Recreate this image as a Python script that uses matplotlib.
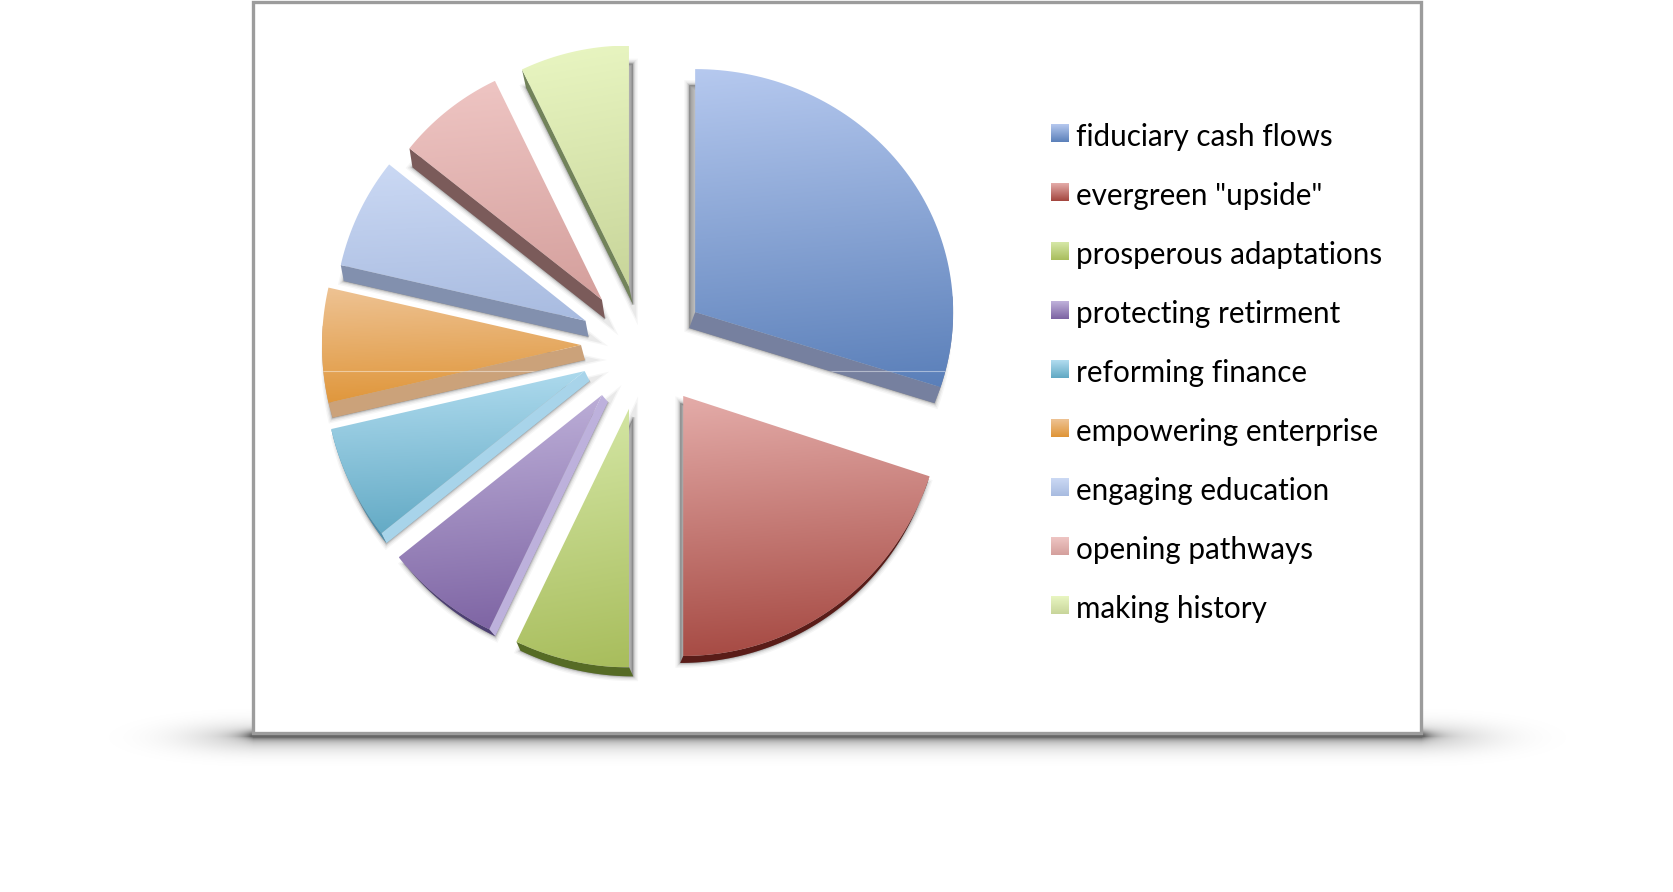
import numpy as np
import matplotlib
matplotlib.use("Agg")
import matplotlib.pyplot as plt
from matplotlib.colors import to_rgb
from matplotlib.patches import Polygon, Rectangle

# ---- data -------------------------------------------------------------
labels = ["fiduciary cash flows", 'evergreen "upside"', "prosperous adaptations",
          "protecting retirment", "reforming finance", "empowering enterprise",
          "engaging education", "opening pathways", "making history"]
values = [30, 20, 7.14, 7.14, 7.14, 7.14, 7.14, 7.14, 7.16]

# ---- styles -----------------------------------------------------------
top_colors = ["#B6C9EF", "#E4ACA9", "#D6E8A8", "#C0B3DB", "#B2DDF0", "#EEC394", "#CBD9F4", "#EFC6C4", "#E9F6C2"]
low_colors = ["#5A7FB9", "#A3453E", "#A8BD5C", "#7C62A2", "#60A8C3", "#DF9436", "#A8BBE0", "#D49F9C", "#C8D59A"]
band_colors = ["#76809F", "#5A1C18", "#566B25", "#BDB1DC", "#A8D4EA", "#CBA27A", "#8290AE", "#7B5B5A", "#72835A"]
rim_colors = ["#76809F", "#5A1C18", "#566B25", "#4D3F73", "#4E8FAD", "#CBA27A", "#8290AE", "#7B5B5A", "#72835A"]
explode_x = [62, 65, 71, 69, 67, 64, 66, 69, 72]
explode_y = [56, 63, 65, 64, 60, 58, 56, 58, 60]
radius_x = [258, 259, 260, 260, 260, 259, 251, 246, 246]
radius_y = [243, 260, 259, 260, 260, 259, 251, 243, 241]
depth_x = [-6, -3, 4, 6, 5, 4, 3, 3, 4]
depth_y = [16, 7, 9, 7, 10, 15, 16, 19, 18]
CX, CY = 645, 345

fig = plt.figure(figsize=(16.73, 8.92), dpi=100)
ax = fig.add_axes([0, 0, 1, 1])
ax.set_xlim(0, 1673)
ax.set_ylim(892, 0)
ax.axis("off")


def ramp(c1, c2, n=256):
    t = np.linspace(0, 1, n)[:, None]
    return np.array(to_rgb(c1))[None, :] * (1 - t) + np.array(to_rgb(c2))[None, :] * t


# ---- drop shadow under the frame --------------------------------------
FL, FR, FT, FB = 253, 1421, 2, 733
xx, yy = np.meshgrid(np.arange(0, 1673), np.arange(660, 820))
dx = np.maximum(np.maximum(FL - xx, xx - FR), 0)
dy = yy - FB
vert = np.where(dy >= 3, np.exp(-(dy - 3) / 3.5), np.exp(-((3 - dy) / 6.0) ** 2))
near = 0.55 * vert * np.exp(-dx / 12.0)
wide = 0.16 * np.exp(-((dy - 4) / 15.0) ** 2) * np.exp(-(dx / 75.0) ** 2)
alpha = np.clip(near + wide, 0, 0.6)
shadow_img = np.zeros(alpha.shape + (4,))
shadow_img[..., 3] = alpha
ax.imshow(shadow_img, extent=(0, 1673, 820, 660), aspect="auto", zorder=1, interpolation="bilinear")

ax.add_patch(Rectangle((FL, FT), FR - FL, FB - FT, facecolor="white", edgecolor="#9C9C9C", linewidth=2.4, zorder=2))


# ---- pie --------------------------------------------------------------
def arc(apex, rx, ry, a0, a1, n=80):
    a = np.radians(np.linspace(a0, a1, n))
    return np.column_stack([apex[0] + rx * np.sin(a), apex[1] - ry * np.cos(a)])


edges = np.concatenate([[0], np.cumsum(values)]) / np.sum(values) * 360.0
z = 3
for i in range(len(values)):
    a0, a1 = edges[i], edges[i + 1]
    mid = np.radians((a0 + a1) / 2)
    apex = np.array([CX + explode_x[i] * np.sin(mid), CY - explode_y[i] * np.cos(mid)])
    rim = arc(apex, radius_x[i], radius_y[i], a0, a1)
    top = np.vstack([apex, rim])
    shift = np.array([depth_x[i], depth_y[i]])

    # soft shadow of the extruded slice
    for lw, al in ((7, 0.035), (5, 0.05), (3, 0.08), (1.5, 0.12)):
        ax.add_patch(Polygon(top + shift, closed=True, facecolor=(0, 0, 0, al),
                             edgecolor=(0, 0, 0, al), linewidth=lw, zorder=z))
    z += 1
    # radial side face: the lower of the two straight edges
    ends = [rim[0], rim[-1]]
    low = ends[int(ends[1][1] > ends[0][1])]
    band = None
    if abs(low[0] - apex[0]) > 5:
        band = np.array([apex, low, low + shift, apex + shift])
        ax.add_patch(Polygon(band, closed=True, facecolor=band_colors[i], edgecolor="none", zorder=z))
    # outer rim: only the part of the arc that faces downwards can be seen
    lower = rim[rim[:, 1] > apex[1] - 20]
    if len(lower) > 1:
        ax.add_patch(Polygon(np.vstack([lower, (lower + shift)[::-1]]), closed=True,
                             facecolor=rim_colors[i], edgecolor="none", zorder=z))
    z += 1
    # top face with gradient
    x0, x1 = top[:, 0].min(), top[:, 0].max()
    y0, y1 = top[:, 1].min(), top[:, 1].max()
    clip = Polygon(top, closed=True, facecolor="none", edgecolor="none", transform=ax.transData)
    ax.add_patch(clip)
    t = np.linspace(0, 1, 200)
    gx, gy = np.meshgrid(t, t)
    g = np.clip(0.93 * gy + 0.07 * gx, 0, 1)
    c1, c2 = np.array(to_rgb(top_colors[i])), np.array(to_rgb(low_colors[i]))
    img = c1[None, None, :] * (1 - g[..., None]) + c2[None, None, :] * g[..., None]
    im = ax.imshow(img, extent=(x0, x1, y1, y0), aspect="auto", zorder=z, interpolation="bilinear")
    im.set_clip_path(clip)
    # faint horizontal seam that crosses two of the slices
    if i in (0, 5):
        for poly in [top] + ([band] if band is not None else []):
            cp = Polygon(poly, closed=True, facecolor="none", edgecolor="none", transform=ax.transData)
            ax.add_patch(cp)
            ln, = ax.plot([0, 1673], [371, 371], color="white", alpha=0.45, lw=0.8, zorder=z + 0.5)
            ln.set_clip_path(cp)
    z += 1

# ---- legend -----------------------------------------------------------
for i, lab in enumerate(labels):
    base = 146 + 58.95 * i
    img = ramp(top_colors[i], low_colors[i])[:, None, :]
    ax.imshow(img, extent=(1056 - 5, 1074 - 5, base - 4, base - 22), aspect="auto", zorder=z)
    ax.text(1076, base, lab, family="Lato", fontsize=21.3, color="black", va="baseline", ha="left", zorder=z)

ax.set_xlim(0, 1673)
ax.set_ylim(892, 0)
fig.savefig("out.png", dpi=100, facecolor="white")
